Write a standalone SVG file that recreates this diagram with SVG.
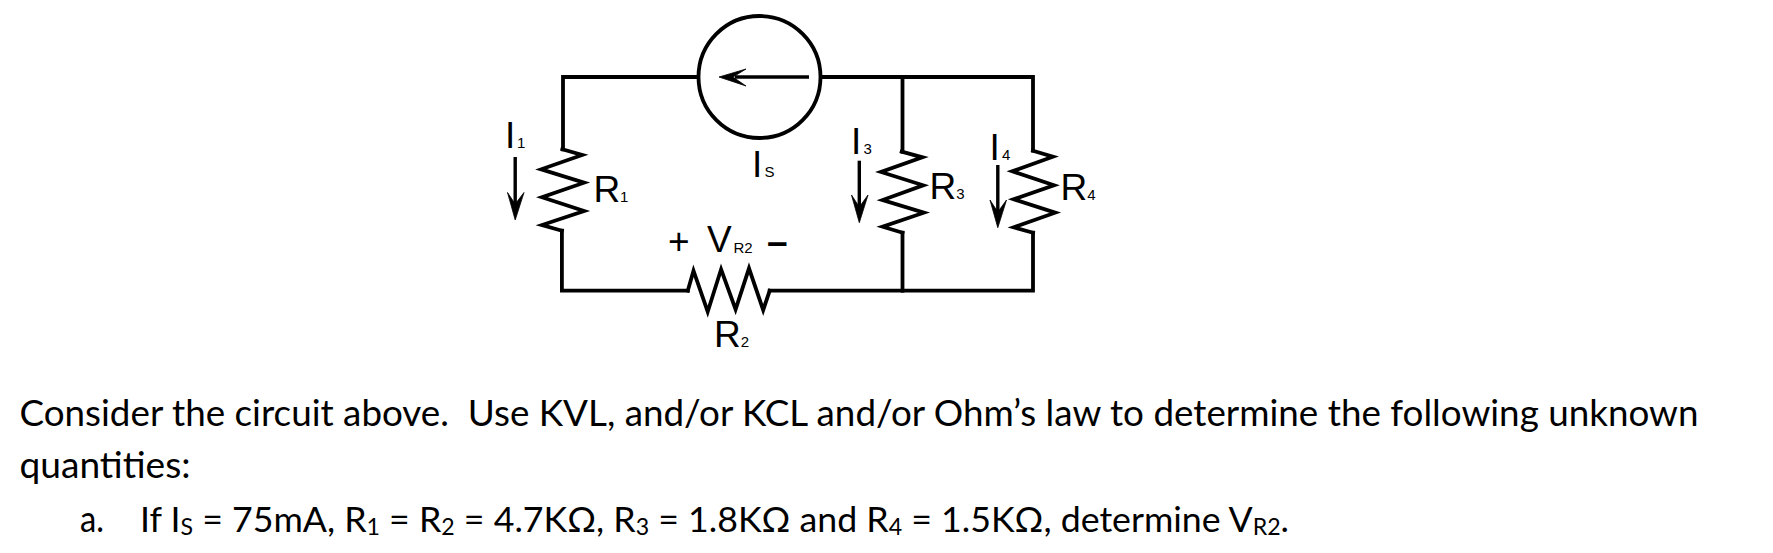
<svg xmlns="http://www.w3.org/2000/svg" width="1773" height="553" viewBox="0 0 1773 553">
<style>
.w{fill:none;stroke:#000;stroke-width:3.800;stroke-linejoin:miter;stroke-linecap:square}
.a{fill:none;stroke:#000;stroke-width:3.400}
.h{fill:#000;stroke:#000;stroke-width:0.800}
.l{font-family:"Liberation Sans",Arial,sans-serif;font-size:37px;fill:#000}
.s{font-family:"Liberation Sans",Arial,sans-serif;font-size:15px;fill:#000}
.b{font-family:Lato,"Noto Sans",sans-serif;font-size:37px;fill:#000}
.c{font-size:35.500px}
.u{font-size:23px}
</style>
<rect width="1773" height="553" fill="#fff"/>
<g id="connectors">
<path class="w" d="M698 77H563V149.300"/>
<path class="w" d="M821 77H1033V150.700"/>
<path class="w" d="M902.500 77V151.700"/>
<path class="w" d="M561.900 230.700V290.700H687.800"/>
<path class="w" d="M769.700 290.700H1033V232.700"/>
<path class="w" d="M902.500 232.700V290.700"/>
</g>
<g id="source-Is">
<circle cx="759.500" cy="77" r="61" fill="none" stroke="#000" stroke-width="3.800"/>
<path class="a" d="M809 77H735"/>
<path class="h" d="M719 77L746 69L733 77L746 86Z"/>
<text class="l" x="752" y="176.700">I</text>
<text class="s" x="764.500" y="176.700">S</text>
</g>
<g id="R1">
<path class="w" d="M562.300 149.300L582.200 155L541.200 169.300L584.100 182.700L542 197.300L584.100 211L542 225L561.900 230.700"/>
<text class="l" x="593.500" y="202">R</text>
<text class="s" x="620" y="202">1</text>
</g>
<g id="R2">
<path class="w" d="M687.800 290.700L693.500 270.700L707.700 311.700L721.100 269.300L735.600 309.300L749 268.300L763.200 310L769.700 290.700"/>
<text class="l" x="714" y="347">R</text>
<text class="s" x="740.800" y="347">2</text>
</g>
<g id="R3">
<path class="w" d="M901.700 151.700L922.400 157.300L881 172L923.200 185.300L882.600 200L923.900 212.700L882.600 226.700L902.500 232.700"/>
<text class="l" x="929.500" y="199.300">R</text>
<text class="s" x="956.300" y="199.300">3</text>
</g>
<g id="R4">
<path class="w" d="M1033 150.700L1052.900 156.700L1012.300 171.300L1054 185.300L1013.800 199.300L1055.200 212.700L1013.800 227.300L1033 232.700"/>
<text class="l" x="1060.500" y="200.300">R</text>
<text class="s" x="1087.300" y="200.300">4</text>
</g>
<g id="I1">
<path class="a" d="M515.200 157V205"/>
<path class="h" d="M515.200 220L507.500 192.500L515.200 204L524 192.500Z"/>
<text class="l" x="505" y="148">I</text>
<text class="s" x="517" y="148">1</text>
</g>
<g id="I3">
<path class="a" d="M859.300 160.700V208"/>
<path class="h" d="M859.300 222.700L851.500 195L859.300 207L868 195Z"/>
<text class="l" x="851" y="154.300">I</text>
<text class="s" x="863.500" y="154.300">3</text>
</g>
<g id="I4">
<path class="a" d="M997.800 165V213"/>
<path class="h" d="M997.800 227.700L990 200L997.800 212L1006.500 200Z"/>
<text class="l" x="989.500" y="160">I</text>
<text class="s" x="1002" y="160">4</text>
</g>
<g id="VR2">
<text class="l" x="668" y="254">+</text>
<text class="l" x="707" y="252.300">V</text>
<text class="s" x="733.500" y="253" font-size="16">R2</text>
<text class="l" x="767" y="254" font-weight="bold">–</text>
</g>
<g id="question">
<text class="b" xml:space="preserve" x="19.500" y="425.700" textLength="1679" lengthAdjust="spacingAndGlyphs">Consider the circuit above.  Use KVL, and/or KCL and/or Ohm’s law to determine the following unknown</text>
<text class="b" x="19.500" y="478" textLength="171" lengthAdjust="spacingAndGlyphs">quantities:</text>
<text class="b" x="80" y="531.700" textLength="24" lengthAdjust="spacingAndGlyphs">a.</text>
<text class="b c" x="140" y="531.700" textLength="1149" lengthAdjust="spacingAndGlyphs">If I<tspan class="u" dy="3">S</tspan><tspan dy="-3"> = 75mA, R</tspan><tspan class="u" dy="3">1</tspan><tspan dy="-3"> = R</tspan><tspan class="u" dy="3">2</tspan><tspan dy="-3"> = 4.7KΩ, R</tspan><tspan class="u" dy="3">3</tspan><tspan dy="-3"> = 1.8KΩ and R</tspan><tspan class="u" dy="3">4</tspan><tspan dy="-3"> = 1.5KΩ, determine V</tspan><tspan class="u" dy="3">R2</tspan><tspan dy="-3">.</tspan></text>
</g>
</svg>
